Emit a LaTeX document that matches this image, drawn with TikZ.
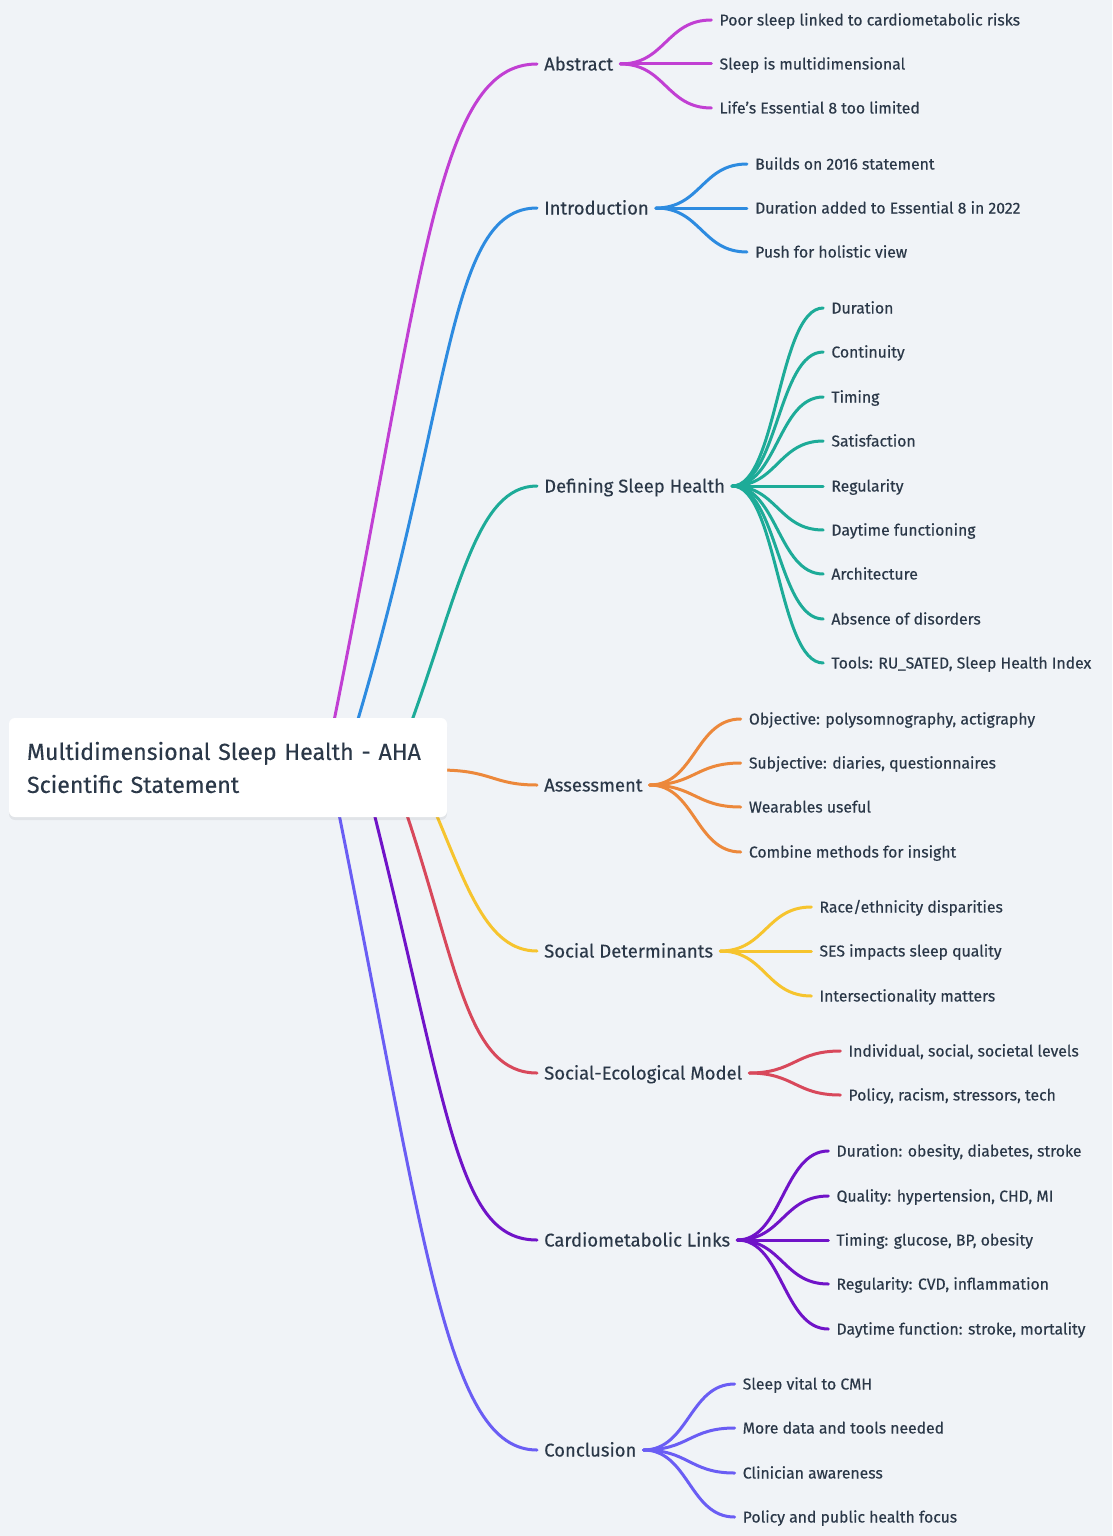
\documentclass[tikz,border=0pt]{standalone}
\usepackage{fontspec}
\setmainfont{Fira Sans}[FakeBold=0.3]
\usetikzlibrary{positioning,shadows}
\definecolor{bgc}{HTML}{F0F3F7}
\definecolor{ink}{HTML}{2B3848}
\definecolor{cAbs}{HTML}{C13FD3}
\definecolor{cInt}{HTML}{2D8BE0}
\definecolor{cDef}{HTML}{1DAB98}
\definecolor{cAss}{HTML}{EC883B}
\definecolor{cSoc}{HTML}{F6C42E}
\definecolor{cEco}{HTML}{D8485B}
\definecolor{cCar}{HTML}{7013C8}
\definecolor{cCon}{HTML}{6A5DF4}
\tikzset{rootbox/.style={fill=white,rounded corners=6pt,minimum width=438pt,minimum height=99pt,text width=402pt,inner xsep=18pt,align=left,text=ink,font=\fontsize{23.2}{33}\selectfont,drop shadow={shadow xshift=0pt,shadow yshift=-3pt,opacity=.06,fill=black}},branch/.style={anchor=west,inner xsep=7pt,inner ysep=0pt,text height=13pt,text depth=0pt,text=ink,font=\fontsize{18.5}{20}\selectfont},leaf/.style={anchor=west,inner xsep=8pt,inner ysep=0pt,text height=11pt,text depth=0pt,text=ink,font=\fontsize{15.75}{18}\selectfont},link/.style={line width=3pt,line cap=round,draw=#1}}

\begin{document}
\begin{tikzpicture}[x=1pt,y=-1pt]
\fill[bgc] (0,0) rectangle (1112,1536);
\useasboundingbox (0,0) rectangle (1112,1536);
% main topics
\node[branch] (abs) at (537,64){Abstract};
\node[branch] (int) at (537,208){Introduction};
\node[branch] (def) at (537,486){Defining Sleep Health};
\node[branch] (ass) at (537,785){Assessment};
\node[branch] (soc) at (537,951){Social Determinants};
\node[branch] (eco) at (537,1073){Social-Ecological Model};
\node[branch] (car) at (537,1240){Cardiometabolic Links};
\node[branch] (con) at (537,1450){Conclusion};
% links from the centre (starts sit under the box)
\coordinate (s1) at (333,726);
\coordinate (s2) at (356,726);
\coordinate (s3) at (410,726);
\coordinate (s4) at (439,770);
\coordinate (s5) at (434,809);
\coordinate (s6) at (405,809);
\coordinate (s7) at (373,809);
\coordinate (s8) at (338,809);
\draw[link=cAbs](s1) .. controls (425,267) and (437,64) .. (abs.west);
\draw[link=cInt](s2) .. controls (454,398) and (447,208) .. (int.west);
\draw[link=cDef](s3) .. controls (460,588) and (477,486) .. (def.west);
\draw[link=cAss](s4) .. controls (492,770) and (492,785) .. (ass.west);
\draw[link=cSoc](s5) .. controls (467,887) and (487,951) .. (soc.west);
\draw[link=cEco](s6) .. controls (458,967) and (467,1073) .. (eco.west);
\draw[link=cCar](s7) .. controls (450,1117) and (457,1240) .. (car.west);
\draw[link=cCon](s8) .. controls (426,1247) and (447,1450) .. (con.west);
\node[rootbox] (root) at (228,767.5){Multidimensional Sleep Health - AHA\\Scientific Statement};
% sub topics
\foreach \b/\c/\list in {
  abs/cAbs/{20/Poor sleep linked to cardiometabolic risks,64/Sleep is multidimensional,108/Life’s Essential 8 too limited},
  int/cInt/{164/Builds on 2016 statement,208/Duration added to Essential 8 in 2022,252/Push for holistic view},
  def/cDef/{308/Duration,352/Continuity,397/Timing,441/Satisfaction,486/Regularity,530/Daytime functioning,574/Architecture,619/Absence of disorders,663/{Tools: RU\_SATED, Sleep Health Index}},
  ass/cAss/{719/{Objective: polysomnography, actigraphy},763/{Subjective: diaries, questionnaires},807/Wearables useful,852/Combine methods for insight},
  soc/cSoc/{907/{Race/ethnicity disparities},951/SES impacts sleep quality,996/Intersectionality matters},
  eco/cEco/{1051/{Individual, social, societal levels},1095/{Policy, racism, stressors, tech}},
  car/cCar/{1151/{Duration: obesity, diabetes, stroke},1196/{Quality: hypertension, CHD, MI},1240/{Timing: glucose, BP, obesity},1284/{Regularity: CVD, inflammation},1329/{Daytime function: stroke, mortality}},
  con/cCon/{1384/Sleep vital to CMH,1428/More data and tools needed,1473/Clinician awareness,1517/Policy and public health focus}}{
  \coordinate (\b-x) at ([xshift=91pt]\b.east);
  \foreach \y/\t [count=\i] in \list {
    \coordinate (yy) at (0,\y);
    \node[leaf] (\b-\i) at (\b-x |- yy){\t};
    \draw[link=\c](\b.east) .. controls +(45,0) and +(-45,0) .. (\b-\i.west);
  }
}
\end{tikzpicture}
\end{document}
